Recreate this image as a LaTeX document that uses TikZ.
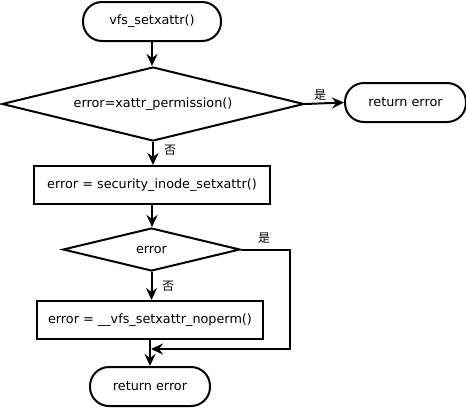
\documentclass[tikz,border=0pt]{standalone}
\usepackage{fontspec}
\setmainfont{DejaVu Sans}
\newfontfamily\cjk{Noto Sans CJK SC}
\usetikzlibrary{shapes.geometric,arrows.meta}
\begin{document}
\begin{tikzpicture}[x=1pt,y=-1pt,
  every node/.style={font=\fontsize{12.8}{14}\selectfont},
  term/.style={draw,line width=2pt,rounded corners=19pt,minimum height=39pt,inner sep=0pt},
  proc/.style={draw,line width=2pt,minimum height=38pt,inner sep=0pt},
  dec/.style={draw,diamond,line width=2pt,inner sep=0pt},
  lab/.style={font=\cjk\fontsize{12}{14}\selectfont,inner sep=0pt},
  arr/.style={line width=2pt,-{Stealth[length=12pt,width=11pt,inset=4pt]}}]
\useasboundingbox (0,0) rectangle (466,408);
\node[term,minimum width=138pt] (start) at (152,21.5) {vfs\_setxattr()};
\node[dec,shape aspect=4.08,minimum width=302pt,minimum height=74pt] (d1) at (153,104) {error=xattr\_permission()};
\node[term,minimum width=121pt] (ret1) at (405.5,102.5) {return error};
\node[proc,minimum width=236pt] (b1) at (152,185) {error = security\_inode\_setxattr()};
\node[dec,shape aspect=4.1,minimum width=177pt,minimum height=43pt] (d2) at (151.5,249.5) {error};
\node[proc,minimum width=226pt] (b2) at (150,320) {error = \_\_vfs\_setxattr\_noperm()};
\node[term,minimum width=120pt] (end) at (150,386.5) {return error};
\coordinate (c1) at (290,249.5);
\coordinate (c2) at (290,349);
\coordinate (m) at (151,349);
\draw[arr] (start.south) -- (start.south |- d1.north);
\draw[arr] (d1.east) -- (ret1.west);
\node[lab] (y1) at (320,95) {是};
\draw[arr] (d1.south) -- (d1.south |- b1.north);
\node[lab] (n1) at (170,150) {否};
\draw[arr] (b1.south) -- (b1.south |- d2.north);
\draw[arr] (d2.south) -- (d2.south |- b2.north);
\node[lab] (n2) at (168,286) {否};
\draw[arr] (d2.east) -- (c1) -- (c2) -- (m);
\node[lab] (y2) at (264,238) {是};
\draw[arr] (b2.south -| end.north) -- (end.north);
\end{tikzpicture}
\end{document}
